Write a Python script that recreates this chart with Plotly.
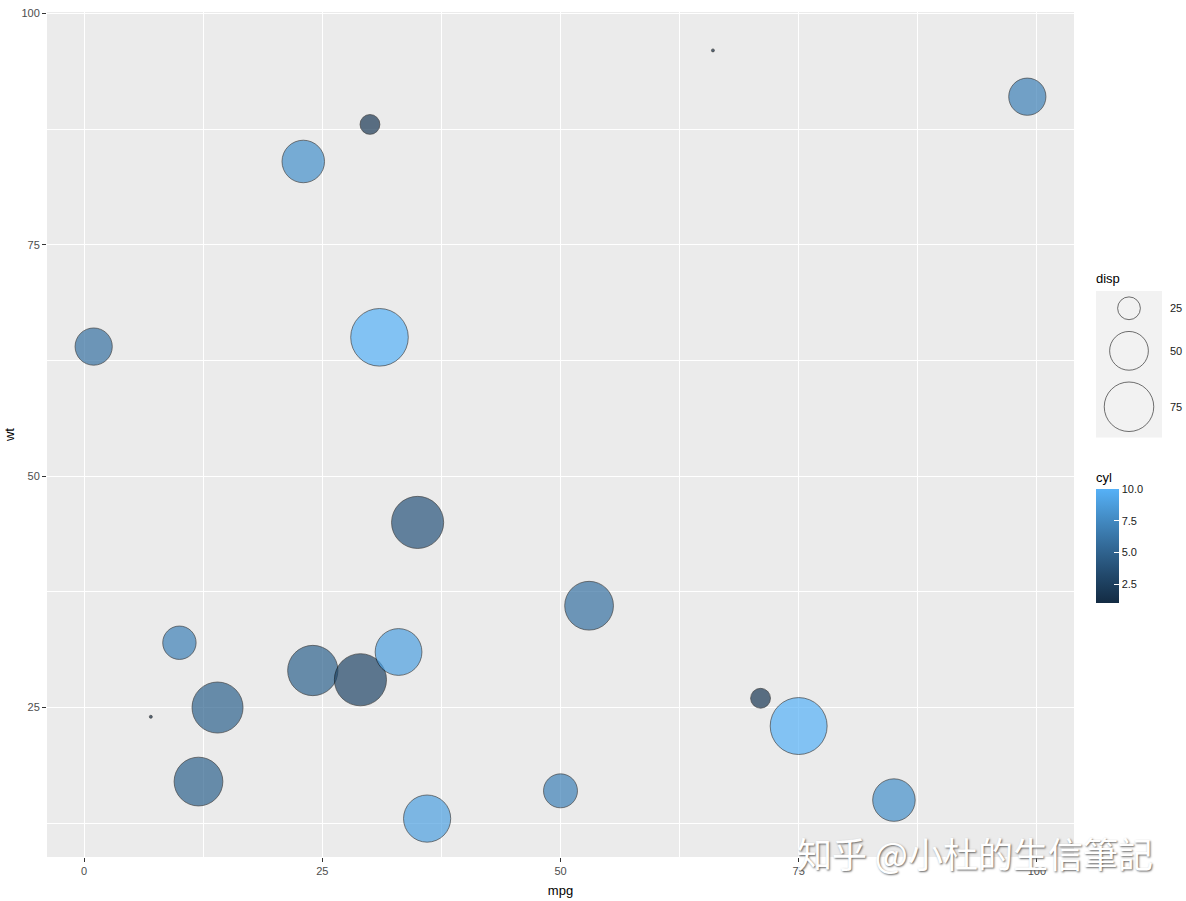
import numpy as np
import plotly.graph_objects as go

# ---- data ----
mpg = [66, 99, 30, 23, 1, 31, 35, 53, 10, 24, 29, 33, 71, 7, 14, 75, 12, 50, 85, 36]
wt = [96, 91, 88, 84, 64, 65, 45, 36, 32, 29, 28, 31, 26, 24, 25, 23, 17, 16, 15, 13]
disp = [14, 47, 22, 58, 47, 98, 82, 73, 40, 77, 82, 68, 22, 14, 79, 96, 73, 41, 58, 69]
cyl = [1, 7, 2, 8, 6, 10, 4, 6, 7, 5, 3, 9, 2, 1, 5, 10, 5, 7, 8, 9]

x_ticks = [0, 25, 50, 75, 100]
y_ticks = [25, 50, 75, 100]
disp_breaks = [25, 50, 75]
cyl_breaks = [2.5, 5.0, 7.5, 10.0]

# ---- layout constants ----
W, H = 1186, 901
ML, MR, MT, MB = 47, 112, 12, 44
PW, PH = W - ML - MR, H - MT - MB
R_MIN, R_MAX = 1.5, 28.8
ALPHA = 0.7
BLUES = [[0.0, "#132B43"], [0.25, "#22496C"], [0.5, "#336A98"], [0.75, "#448DC6"], [1.0, "#56B1F7"]]
TXT = "Liberation Sans, Arial, sans-serif"

dmin, dmax = min(disp), max(disp)


def radius(v):
    t = (np.asarray(v, dtype=float) - dmin) / (dmax - dmin)
    return R_MIN + (R_MAX - R_MIN) * np.sqrt(np.clip(t, 0, 1))


def expand(vals, f=0.05):
    lo, hi = min(vals), max(vals)
    s = hi - lo
    return [lo - f * s, hi + f * s]


def px_x(X):
    return (X - ML) / PW


def px_y(Y):
    return (H - MB - Y) / PH


fig = go.Figure()
fig.add_trace(go.Scatter(
    x=mpg, y=wt, mode="markers",
    marker=dict(
        size=2 * radius(disp), sizemode="diameter",
        color=cyl, colorscale=BLUES, cmin=min(cyl), cmax=max(cyl),
        opacity=ALPHA,
        line=dict(color="#000000", width=0.7),
        colorbar=dict(
            title=dict(text="cyl", side="top", font=dict(size=13, color="#000000", family=TXT)),
            x=px_x(1096), xanchor="left", xref="paper",
            y=px_y(603), yanchor="bottom", yref="paper",
            lenmode="pixels", len=134, thickness=23, thicknessmode="pixels",
            outlinewidth=0, tickvals=cyl_breaks, tickformat=".1f",
            ticks="inside", ticklen=5, tickcolor="#FFFFFF", tickwidth=1,
            tickfont=dict(size=11, color="#1A1A1A", family=TXT),
            ypad=0, xpad=0,
        ),
    ),
    showlegend=False, hoverinfo="x+y",
))

# ---- size legend (disp) ----
shapes = []
annotations = []
box_x0, box_x1, box_top = 1096, 1162, 291
diam = [2 * float(radius(v)) for v in disp_breaks]
pad = 11.8
heights = [d + pad for d in diam]
box_bottom = box_top + sum(heights)
shapes.append(dict(type="rect", xref="paper", yref="paper",
                   x0=px_x(box_x0), x1=px_x(box_x1), y0=px_y(box_bottom), y1=px_y(box_top),
                   fillcolor="#F2F2F2", line=dict(width=0), layer="below"))
cy = box_top
cx = (box_x0 + box_x1) / 2
for v, d, h in zip(disp_breaks, diam, heights):
    c = cy + h / 2
    r = d / 2
    shapes.append(dict(type="circle", xref="paper", yref="paper",
                       xsizemode="pixel", ysizemode="pixel",
                       xanchor=px_x(cx), yanchor=px_y(c),
                       x0=-r, x1=r, y0=-r, y1=r,
                       fillcolor="rgba(0,0,0,0)", line=dict(color="#333333", width=0.7)))
    annotations.append(dict(text=str(v), xref="paper", yref="paper", x=px_x(1168), y=px_y(c),
                            xanchor="left", yanchor="middle", showarrow=False,
                            font=dict(size=11, color="#1A1A1A", family=TXT)))
    cy += h
annotations.append(dict(text="disp", xref="paper", yref="paper", x=px_x(1094), y=px_y(278),
                        xanchor="left", yanchor="middle", showarrow=False,
                        font=dict(size=13, color="#000000", family=TXT)))

# watermark
annotations.append(dict(text="知乎 @小杜的生信筆記", xref="paper", yref="paper",
                        x=px_x(975), y=px_y(852), xanchor="center", yanchor="middle",
                        showarrow=False,
                        font=dict(size=35, color="#FFFFFF", family="Noto Sans CJK TC",
                                  shadow="1px 1px 2px #666666")))

axis_common = dict(
    showgrid=True, gridcolor="#FFFFFF", gridwidth=1.1,
    zeroline=False, showline=False, automargin=False,
    ticks="outside", ticklen=4, tickwidth=1, tickcolor="#333333",
    tickfont=dict(size=11, color="#4D4D4D", family=TXT),
    minor=dict(dtick=12.5, showgrid=True, gridcolor="#FFFFFF", gridwidth=0.5, ticks=""),
)

fig.update_layout(
    width=W, height=H, autosize=False,
    margin=dict(l=ML, r=MR, t=MT, b=MB, pad=0, autoexpand=False),
    paper_bgcolor="#FFFFFF", plot_bgcolor="#EBEBEB",
    font=dict(family=TXT),
    xaxis=dict(range=expand(mpg), tickvals=x_ticks, tick0=0,
               title=dict(text="mpg", font=dict(size=13, color="#000000", family=TXT), standoff=9),
               **axis_common),
    yaxis=dict(range=expand(wt), tickvals=y_ticks, tick0=0,
               title=dict(text="wt", font=dict(size=13, color="#000000", family=TXT), standoff=3),
               **axis_common),
    shapes=shapes, annotations=annotations,
)

fig.write_html("out.html", config={"displayModeBar": False},
               post_script="document.body.style.margin='0';document.body.style.overflow='hidden';")
